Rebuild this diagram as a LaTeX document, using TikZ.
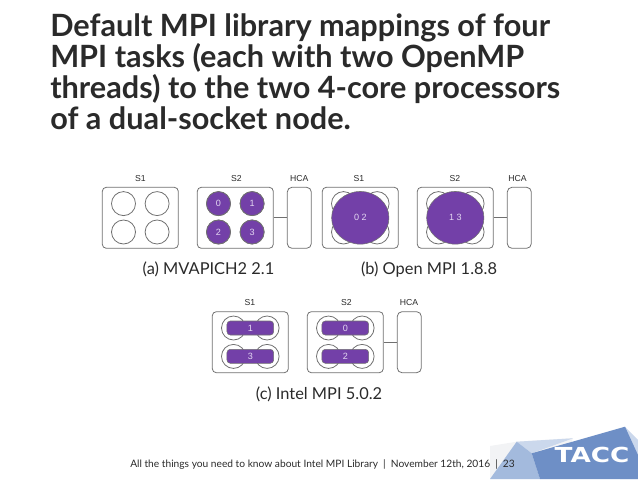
\documentclass[tikz,border=0pt]{standalone}
\usepackage{fontspec}
\setmainfont{Lato}
\newfontfamily\lblfont{Liberation Sans}
\newfontfamily\logofont{DejaVu Sans}
\usetikzlibrary{shapes.geometric}
\definecolor{pur}{HTML}{7340A8}
\definecolor{ltx}{HTML}{E4D8F2}
\definecolor{edge}{HTML}{707070}
\definecolor{ink}{HTML}{2A2A2A}
\definecolor{tblue}{HTML}{6E8FC6}
\definecolor{tmid}{HTML}{A3BADD}
\definecolor{tpale}{HTML}{CBD8EC}
\definecolor{tfade}{HTML}{F2F3F5}
\tikzset{
  sock/.style={draw=edge,line width=0.6pt,rounded corners=3pt,minimum width=57pt,minimum height=45.75pt,inner sep=0pt},
  hcabox/.style={draw=edge,line width=0.6pt,rounded corners=3.5pt,minimum width=18pt,minimum height=45.75pt,inner sep=0pt},
  core/.style={circle,draw=edge,line width=0.6pt,minimum size=18pt,inner sep=0pt},
  fullcore/.style={core,fill=pur,text=ltx,font=\lblfont\fontsize{6.8}{8}\selectfont},
  blob/.style={ellipse,draw=edge,line width=0.4pt,fill=pur,text=ltx,minimum width=43pt,minimum height=39.5pt,inner sep=0pt,font=\lblfont\fontsize{6.8}{8}\selectfont},
  pill/.style={draw=edge,line width=0.4pt,fill=pur,text=ltx,rounded corners=2.5pt,minimum width=35pt,minimum height=10.5pt,inner sep=0pt,font=\lblfont\fontsize{6.8}{8}\selectfont},
  lbl/.style={text=ink,font=\lblfont\fontsize{6.5}{8}\selectfont,inner sep=0pt},
  captxt/.style={text=ink,font=\fontsize{12.3}{14}\selectfont,inner sep=0pt},
  link/.style={draw=edge,line width=0.7pt},
}
% name, centre x, centre y
\newcommand{\socketbox}[3]{%
  \node[sock] (#1) at (#2,#3) {};
  \node[core] (#1a) at ([shift={(-16.8,-14.2)}]#1.center) {};
  \node[core] (#1b) at ([shift={(16.8,-14.2)}]#1.center) {};
  \node[core] (#1c) at ([shift={(-16.8,14.2)}]#1.center) {};
  \node[core] (#1d) at ([shift={(16.8,14.2)}]#1.center) {};
}
\begin{document}
\begin{tikzpicture}[x=0.75pt,y=-0.75pt]
\useasboundingbox (0,0) rectangle (638,479);
% title
\node[anchor=north west,align=left,inner sep=0pt,text=ink,font=\bfseries\fontsize{23}{23.3}\selectfont] (title) at (50,13.5)
 {Default MPI library mappings of four\\MPI tasks (each with two OpenMP\\threads) to the two 4-core processors\\of a dual-socket node.};
% panel a
\socketbox{as}{140.3}{217.8}
\socketbox{at}{235.3}{217.8}
\node[hcabox] (ah) at (299.3,217.8) {};
\draw[link] (at) -- (ah);
\node[lbl] (al1) at (140.3,179) {S1};
\node[lbl] (al2) at (236.5,179) {S2};
\node[lbl] (al3) at (299.3,179) {HCA};
\node[fullcore] (a0) at (ata) {0};
\node[fullcore] (a1) at (atb) {1};
\node[fullcore] (a2) at (atc) {2};
\node[fullcore] (a3) at (atd) {3};
\node[captxt] (acap) at (208.5,269.5) {(a) MVAPICH2 2.1};
% panel b
\socketbox{bs}{360.3}{217.8}
\socketbox{bt}{455.3}{217.8}
\node[hcabox] (bh) at (519.3,217.8) {};
\draw[link] (bt) -- (bh);
\node[lbl] (bl1) at (359,179) {S1};
\node[lbl] (bl2) at (455,179) {S2};
\node[lbl] (bl3) at (517.5,179) {HCA};
\node[blob] (be) at (bs) {0 2};
\node[blob] (bf) at (bt) {1 3};
\node[captxt] (bcap) at (429,269.5) {(b) Open MPI 1.8.8};
% panel c
\socketbox{cs}{250.3}{342.2}
\socketbox{ct}{345.3}{342.2}
\node[hcabox] (ch) at (409.3,342.2) {};
\draw[link] (ct) -- (ch);
\node[lbl] (cl1) at (250,303) {S1};
\node[lbl] (cl2) at (346.5,303) {S2};
\node[lbl] (cl3) at (409,303) {HCA};
\node[pill] (cp1) at (250.3,328) {1};
\node[pill] (cp3) at (250.3,356.3) {3};
\node[pill] (cp0) at (345.3,328) {0};
\node[pill] (cp2) at (345.3,356.3) {2};
\node[captxt] (ccap) at (319,394) {(c) Intel MPI 5.0.2};
% logo
\fill[tfade] (490,446) -- (516.7,441.7) -- (573,438) -- (560,479) -- (490,479) -- cycle;
\fill[tpale] (516.7,441.7) -- (573,438.3) -- (531.7,453.3) -- cycle;
\fill[tmid] (490,479) -- (516.7,441.7) -- (531.7,453.3) -- (540,479) -- cycle;
\fill[tpale] (625,427) -- (638,440) -- (638,479) -- (620,479) -- cycle;
\fill[tblue] (531.7,453.3) -- (625,426.7) -- (638,455) -- (638,479) -- (540,479) -- cycle;
\node[inner sep=0pt,text=white,xscale=1.27,font=\logofont\bfseries\fontsize{15.5}{15.5}\selectfont] (logo) at (592,455) {TACC};
% footer
\node[anchor=base west,inner sep=0pt,text=ink,font=\fontsize{7.65}{10}\selectfont] (foot) at (130,467)
 {All the things you need to know about Intel MPI Library\enspace|\enspace November 12th, 2016\enspace|\enspace 23};
\end{tikzpicture}
\end{document}
